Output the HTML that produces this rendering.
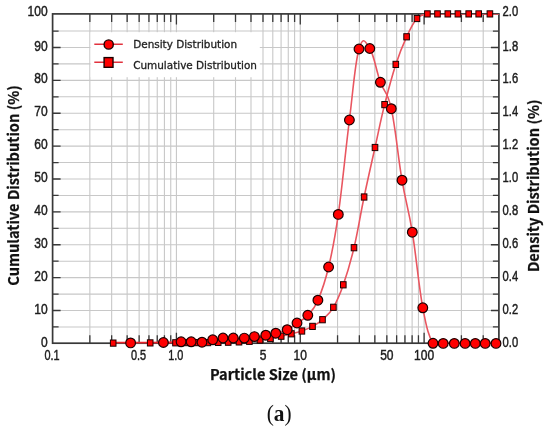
<!DOCTYPE html><html><head><meta charset="utf-8"><style>html,body{margin:0;padding:0;background:#fff;width:550px;height:431px;overflow:hidden}svg{display:block}</style></head><body>
<svg width="550" height="431" viewBox="0 0 550 431">
<rect width="550" height="431" fill="#fff"/>
<defs><clipPath id="pc"><rect x="52.6" y="13.9" width="446.3" height="329.3"/></clipPath></defs>
<path d="M89.85,13.9V343.2 M111.66,13.9V343.2 M127.14,13.9V343.2 M139.14,13.9V343.2 M148.94,13.9V343.2 M157.24,13.9V343.2 M164.42,13.9V343.2 M170.75,13.9V343.2 M176.42,13.9V343.2 M213.70,13.9V343.2 M235.51,13.9V343.2 M250.99,13.9V343.2 M262.99,13.9V343.2 M272.79,13.9V343.2 M281.09,13.9V343.2 M288.27,13.9V343.2 M294.60,13.9V343.2 M300.27,13.9V343.2 M337.55,13.9V343.2 M359.36,13.9V343.2 M374.84,13.9V343.2 M386.84,13.9V343.2 M396.64,13.9V343.2 M404.94,13.9V343.2 M412.12,13.9V343.2 M418.45,13.9V343.2 M424.12,13.9V343.2 M461.40,13.9V343.2 M483.21,13.9V343.2 M52.6,326.96H498.9 M52.6,310.52H498.9 M52.6,294.08H498.9 M52.6,277.64H498.9 M52.6,261.20H498.9 M52.6,244.76H498.9 M52.6,228.32H498.9 M52.6,211.88H498.9 M52.6,195.44H498.9 M52.6,179.00H498.9 M52.6,162.56H498.9 M52.6,146.12H498.9 M52.6,129.68H498.9 M52.6,113.24H498.9 M52.6,96.80H498.9 M52.6,80.36H498.9 M52.6,63.92H498.9 M52.6,47.48H498.9 M52.6,31.04H498.9" stroke="#c8c8c8" stroke-width="1.1" fill="none"/>
<rect x="90.6" y="32.2" width="169.2" height="45" fill="#fff"/>
<path d="M89.85,13.9V21.90 M89.85,343.2V335.20 M111.66,13.9V21.90 M111.66,343.2V335.20 M127.14,13.9V21.90 M127.14,343.2V335.20 M139.14,13.9V21.90 M139.14,343.2V335.20 M148.94,13.9V21.90 M148.94,343.2V335.20 M157.24,13.9V21.90 M157.24,343.2V335.20 M164.42,13.9V21.90 M164.42,343.2V335.20 M170.75,13.9V21.90 M170.75,343.2V335.20 M176.42,13.9V24.40 M176.42,343.2V332.70 M213.70,13.9V21.90 M213.70,343.2V335.20 M235.51,13.9V21.90 M235.51,343.2V335.20 M250.99,13.9V21.90 M250.99,343.2V335.20 M262.99,13.9V21.90 M262.99,343.2V335.20 M272.79,13.9V21.90 M272.79,343.2V335.20 M281.09,13.9V21.90 M281.09,343.2V335.20 M288.27,13.9V21.90 M288.27,343.2V335.20 M294.60,13.9V21.90 M294.60,343.2V335.20 M300.27,13.9V24.40 M300.27,343.2V332.70 M337.55,13.9V21.90 M337.55,343.2V335.20 M359.36,13.9V21.90 M359.36,343.2V335.20 M374.84,13.9V21.90 M374.84,343.2V335.20 M386.84,13.9V21.90 M386.84,343.2V335.20 M396.64,13.9V21.90 M396.64,343.2V335.20 M404.94,13.9V21.90 M404.94,343.2V335.20 M412.12,13.9V21.90 M412.12,343.2V335.20 M418.45,13.9V21.90 M418.45,343.2V335.20 M424.12,13.9V24.40 M424.12,343.2V332.70 M461.40,13.9V21.90 M461.40,343.2V335.20 M483.21,13.9V21.90 M483.21,343.2V335.20 M52.6,326.96H58.60 M498.9,326.96H492.90 M52.6,310.52H60.60 M498.9,310.52H490.90 M52.6,294.08H58.60 M498.9,294.08H492.90 M52.6,277.64H60.60 M498.9,277.64H490.90 M52.6,261.20H58.60 M498.9,261.20H492.90 M52.6,244.76H60.60 M498.9,244.76H490.90 M52.6,228.32H58.60 M498.9,228.32H492.90 M52.6,211.88H60.60 M498.9,211.88H490.90 M52.6,195.44H58.60 M498.9,195.44H492.90 M52.6,179.00H60.60 M498.9,179.00H490.90 M52.6,162.56H58.60 M498.9,162.56H492.90 M52.6,146.12H60.60 M498.9,146.12H490.90 M52.6,129.68H58.60 M498.9,129.68H492.90 M52.6,113.24H60.60 M498.9,113.24H490.90 M52.6,96.80H58.60 M498.9,96.80H492.90 M52.6,80.36H60.60 M498.9,80.36H490.90 M52.6,63.92H58.60 M498.9,63.92H492.90 M52.6,47.48H60.60 M498.9,47.48H490.90 M52.6,31.04H58.60 M498.9,31.04H492.90" stroke="#383838" stroke-width="1.3" fill="none"/>
<rect x="52.6" y="13.9" width="446.3" height="329.3" fill="none" stroke="#383838" stroke-width="1.7"/>
<g clip-path="url(#pc)">
<path d="M113.20,343.10 C120.60,343.06 137.74,342.96 150.20,342.90 C162.66,342.84 168.16,342.86 175.50,342.80 C182.84,342.74 182.54,342.64 186.90,342.60 C191.26,342.56 193.10,342.60 197.30,342.60 C201.50,342.60 203.72,342.64 207.90,342.60 C212.08,342.56 214.14,342.48 218.20,342.40 C222.26,342.32 224.04,342.30 228.20,342.20 C232.36,342.10 234.76,342.08 239.00,341.90 C243.24,341.72 245.20,341.68 249.40,341.30 C253.60,340.92 255.80,340.56 260.00,340.00 C264.20,339.44 266.16,339.26 270.40,338.50 C274.64,337.74 277.00,337.14 281.20,336.20 C285.40,335.26 287.26,334.84 291.40,333.80 C295.54,332.76 297.68,332.48 301.90,331.00 C306.12,329.52 308.38,328.66 312.50,326.40 C316.62,324.14 318.32,323.52 322.50,319.70 C326.68,315.88 329.24,314.28 333.40,307.30 C337.56,300.32 339.18,296.72 343.30,284.80 C347.42,272.88 349.84,265.26 354.00,247.70 C358.16,230.14 359.90,217.04 364.10,197.00 C368.30,176.96 370.90,165.98 375.00,147.50 C379.10,129.02 380.44,121.22 384.60,104.60 C388.76,87.98 391.40,77.96 395.80,64.40 C400.20,50.84 402.36,45.98 406.60,36.80 C410.84,27.62 412.84,23.08 417.00,18.50 C421.16,13.92 423.30,14.82 427.40,13.90 C431.50,12.98 433.42,13.90 437.50,13.90 C441.58,13.90 443.72,13.90 447.80,13.90 C451.88,13.90 453.72,13.90 457.90,13.90 C462.08,13.90 464.54,13.90 468.70,13.90 C472.86,13.90 474.46,13.90 478.70,13.90 C482.94,13.90 485.56,13.90 489.90,13.90 C494.24,13.90 498.30,13.90 500.40,13.90" stroke="#e95660" stroke-width="1.6" fill="none"/>
<path d="M130.60,342.90 C137.16,342.82 153.30,342.72 163.40,342.50 C173.50,342.28 175.54,341.94 181.10,341.80 C186.66,341.66 187.02,341.72 191.20,341.80 C195.38,341.88 197.70,342.60 202.00,342.20 C206.30,341.80 208.50,340.64 212.70,339.80 C216.90,338.96 218.88,338.36 223.00,338.00 C227.12,337.64 229.04,337.98 233.30,338.00 C237.56,338.02 240.08,338.38 244.30,338.10 C248.52,337.82 250.10,337.18 254.40,336.60 C258.70,336.02 261.52,335.88 265.80,335.20 C270.08,334.52 271.52,334.30 275.80,333.20 C280.08,332.10 282.96,331.74 287.20,329.70 C291.44,327.66 292.88,325.88 297.00,323.00 C301.12,320.12 303.62,319.86 307.80,315.30 C311.98,310.74 313.74,309.86 317.90,300.20 C322.06,290.54 324.52,284.16 328.60,267.00 C332.68,249.84 334.14,243.80 338.30,214.40 C342.46,185.00 345.26,153.08 349.40,120.00 C353.54,86.92 354.92,63.30 359.00,49.00 C363.08,34.70 365.52,41.84 369.80,48.50 C374.08,55.16 376.10,70.26 380.40,82.30 C384.70,94.34 386.98,89.12 391.30,108.70 C395.62,128.28 397.80,155.50 402.00,180.20 C406.20,204.90 408.14,206.68 412.30,232.20 C416.46,257.72 418.66,285.58 422.80,307.80 C426.94,330.02 428.92,336.18 433.00,343.30 C437.08,350.42 438.94,343.38 443.20,343.40 C447.46,343.42 449.92,343.40 454.30,343.40 C458.68,343.40 460.90,343.40 465.10,343.40 C469.30,343.40 471.28,343.40 475.30,343.40 C479.32,343.40 481.06,343.40 485.20,343.40 C489.34,343.40 491.74,343.40 496.00,343.40 C500.26,343.40 504.40,343.40 506.50,343.40" stroke="#e95660" stroke-width="1.6" fill="none"/>
<path d="M113.2,342.8H200" stroke="#e8262e" stroke-width="2.2" fill="none"/>
</g>
<rect x="110.40" y="340.00" width="5.6" height="6.2" fill="#ff0000" stroke="#1a0000" stroke-width="1"/>
<rect x="147.40" y="339.80" width="5.6" height="6.2" fill="#ff0000" stroke="#1a0000" stroke-width="1"/>
<rect x="172.70" y="339.70" width="5.6" height="6.2" fill="#ff0000" stroke="#1a0000" stroke-width="1"/>
<rect x="184.10" y="339.50" width="5.6" height="6.2" fill="#ff0000" stroke="#1a0000" stroke-width="1"/>
<rect x="194.50" y="339.50" width="5.6" height="6.2" fill="#ff0000" stroke="#1a0000" stroke-width="1"/>
<rect x="205.10" y="339.50" width="5.6" height="6.2" fill="#ff0000" stroke="#1a0000" stroke-width="1"/>
<rect x="215.40" y="339.30" width="5.6" height="6.2" fill="#ff0000" stroke="#1a0000" stroke-width="1"/>
<rect x="225.40" y="339.10" width="5.6" height="6.2" fill="#ff0000" stroke="#1a0000" stroke-width="1"/>
<rect x="236.20" y="338.80" width="5.6" height="6.2" fill="#ff0000" stroke="#1a0000" stroke-width="1"/>
<rect x="246.60" y="338.20" width="5.6" height="6.2" fill="#ff0000" stroke="#1a0000" stroke-width="1"/>
<rect x="257.20" y="336.90" width="5.6" height="6.2" fill="#ff0000" stroke="#1a0000" stroke-width="1"/>
<rect x="267.60" y="335.40" width="5.6" height="6.2" fill="#ff0000" stroke="#1a0000" stroke-width="1"/>
<rect x="278.40" y="333.10" width="5.6" height="6.2" fill="#ff0000" stroke="#1a0000" stroke-width="1"/>
<rect x="288.60" y="330.70" width="5.6" height="6.2" fill="#ff0000" stroke="#1a0000" stroke-width="1"/>
<rect x="299.10" y="327.90" width="5.6" height="6.2" fill="#ff0000" stroke="#1a0000" stroke-width="1"/>
<rect x="309.70" y="323.30" width="5.6" height="6.2" fill="#ff0000" stroke="#1a0000" stroke-width="1"/>
<rect x="319.70" y="316.60" width="5.6" height="6.2" fill="#ff0000" stroke="#1a0000" stroke-width="1"/>
<rect x="330.60" y="304.20" width="5.6" height="6.2" fill="#ff0000" stroke="#1a0000" stroke-width="1"/>
<rect x="340.50" y="281.70" width="5.6" height="6.2" fill="#ff0000" stroke="#1a0000" stroke-width="1"/>
<rect x="351.20" y="244.60" width="5.6" height="6.2" fill="#ff0000" stroke="#1a0000" stroke-width="1"/>
<rect x="361.30" y="193.90" width="5.6" height="6.2" fill="#ff0000" stroke="#1a0000" stroke-width="1"/>
<rect x="372.20" y="144.40" width="5.6" height="6.2" fill="#ff0000" stroke="#1a0000" stroke-width="1"/>
<rect x="381.80" y="101.50" width="5.6" height="6.2" fill="#ff0000" stroke="#1a0000" stroke-width="1"/>
<rect x="393.00" y="61.30" width="5.6" height="6.2" fill="#ff0000" stroke="#1a0000" stroke-width="1"/>
<rect x="403.80" y="33.70" width="5.6" height="6.2" fill="#ff0000" stroke="#1a0000" stroke-width="1"/>
<rect x="414.20" y="15.40" width="5.6" height="6.2" fill="#ff0000" stroke="#1a0000" stroke-width="1"/>
<rect x="424.60" y="10.80" width="5.6" height="6.2" fill="#ff0000" stroke="#1a0000" stroke-width="1"/>
<rect x="434.70" y="10.80" width="5.6" height="6.2" fill="#ff0000" stroke="#1a0000" stroke-width="1"/>
<rect x="445.00" y="10.80" width="5.6" height="6.2" fill="#ff0000" stroke="#1a0000" stroke-width="1"/>
<rect x="455.10" y="10.80" width="5.6" height="6.2" fill="#ff0000" stroke="#1a0000" stroke-width="1"/>
<rect x="465.90" y="10.80" width="5.6" height="6.2" fill="#ff0000" stroke="#1a0000" stroke-width="1"/>
<rect x="475.90" y="10.80" width="5.6" height="6.2" fill="#ff0000" stroke="#1a0000" stroke-width="1"/>
<rect x="487.10" y="10.80" width="5.6" height="6.2" fill="#ff0000" stroke="#1a0000" stroke-width="1"/>
<circle cx="130.60" cy="342.90" r="4.85" fill="#ff0000" stroke="#1a0000" stroke-width="1.2"/>
<circle cx="163.40" cy="342.50" r="4.85" fill="#ff0000" stroke="#1a0000" stroke-width="1.2"/>
<circle cx="181.10" cy="341.80" r="4.85" fill="#ff0000" stroke="#1a0000" stroke-width="1.2"/>
<circle cx="191.20" cy="341.80" r="4.85" fill="#ff0000" stroke="#1a0000" stroke-width="1.2"/>
<circle cx="202.00" cy="342.20" r="4.85" fill="#ff0000" stroke="#1a0000" stroke-width="1.2"/>
<circle cx="212.70" cy="339.80" r="4.85" fill="#ff0000" stroke="#1a0000" stroke-width="1.2"/>
<circle cx="223.00" cy="338.00" r="4.85" fill="#ff0000" stroke="#1a0000" stroke-width="1.2"/>
<circle cx="233.30" cy="338.00" r="4.85" fill="#ff0000" stroke="#1a0000" stroke-width="1.2"/>
<circle cx="244.30" cy="338.10" r="4.85" fill="#ff0000" stroke="#1a0000" stroke-width="1.2"/>
<circle cx="254.40" cy="336.60" r="4.85" fill="#ff0000" stroke="#1a0000" stroke-width="1.2"/>
<circle cx="265.80" cy="335.20" r="4.85" fill="#ff0000" stroke="#1a0000" stroke-width="1.2"/>
<circle cx="275.80" cy="333.20" r="4.85" fill="#ff0000" stroke="#1a0000" stroke-width="1.2"/>
<circle cx="287.20" cy="329.70" r="4.85" fill="#ff0000" stroke="#1a0000" stroke-width="1.2"/>
<circle cx="297.00" cy="323.00" r="4.85" fill="#ff0000" stroke="#1a0000" stroke-width="1.2"/>
<circle cx="307.80" cy="315.30" r="4.85" fill="#ff0000" stroke="#1a0000" stroke-width="1.2"/>
<circle cx="317.90" cy="300.20" r="4.85" fill="#ff0000" stroke="#1a0000" stroke-width="1.2"/>
<circle cx="328.60" cy="267.00" r="4.85" fill="#ff0000" stroke="#1a0000" stroke-width="1.2"/>
<circle cx="338.30" cy="214.40" r="4.85" fill="#ff0000" stroke="#1a0000" stroke-width="1.2"/>
<circle cx="349.40" cy="120.00" r="4.85" fill="#ff0000" stroke="#1a0000" stroke-width="1.2"/>
<circle cx="359.00" cy="49.00" r="4.85" fill="#ff0000" stroke="#1a0000" stroke-width="1.2"/>
<circle cx="369.80" cy="48.50" r="4.85" fill="#ff0000" stroke="#1a0000" stroke-width="1.2"/>
<circle cx="380.40" cy="82.30" r="4.85" fill="#ff0000" stroke="#1a0000" stroke-width="1.2"/>
<circle cx="391.30" cy="108.70" r="4.85" fill="#ff0000" stroke="#1a0000" stroke-width="1.2"/>
<circle cx="402.00" cy="180.20" r="4.85" fill="#ff0000" stroke="#1a0000" stroke-width="1.2"/>
<circle cx="412.30" cy="232.20" r="4.85" fill="#ff0000" stroke="#1a0000" stroke-width="1.2"/>
<circle cx="422.80" cy="307.80" r="4.85" fill="#ff0000" stroke="#1a0000" stroke-width="1.2"/>
<circle cx="433.00" cy="343.30" r="4.85" fill="#ff0000" stroke="#1a0000" stroke-width="1.2"/>
<circle cx="443.20" cy="343.40" r="4.85" fill="#ff0000" stroke="#1a0000" stroke-width="1.2"/>
<circle cx="454.30" cy="343.40" r="4.85" fill="#ff0000" stroke="#1a0000" stroke-width="1.2"/>
<circle cx="465.10" cy="343.40" r="4.85" fill="#ff0000" stroke="#1a0000" stroke-width="1.2"/>
<circle cx="475.30" cy="343.40" r="4.85" fill="#ff0000" stroke="#1a0000" stroke-width="1.2"/>
<circle cx="485.20" cy="343.40" r="4.85" fill="#ff0000" stroke="#1a0000" stroke-width="1.2"/>
<circle cx="496.00" cy="343.40" r="4.85" fill="#ff0000" stroke="#1a0000" stroke-width="1.2"/>
<path d="M94.3,44.3H122.8M94.3,62.3H122.8" stroke="#e2323e" stroke-width="1.6"/>
<circle cx="108.7" cy="44.5" r="4.6" fill="#ff0000" stroke="#1a0000" stroke-width="1.4"/>
<rect x="104.1" y="57.6" width="8.9" height="9.7" fill="#ff0000" stroke="#1a0000" stroke-width="1.4"/>
<text x="133.2" y="48.2" style="font-family:'DejaVu Sans','Liberation Sans',sans-serif;font-size:10.45px" fill="#1e1e1e" stroke="#1e1e1e" stroke-width="0.3">Density Distribution</text>
<text x="133.2" y="68.5" style="font-family:'DejaVu Sans','Liberation Sans',sans-serif;font-size:10.45px" fill="#1e1e1e" stroke="#1e1e1e" stroke-width="0.3">Cumulative Distribution</text>
<text transform="translate(47.7,346.50) scale(0.86,1)" text-anchor="end" style="font-family:'Liberation Sans',Arial,sans-serif;font-size:14px" fill="#1c1c1c" stroke="#1c1c1c" stroke-width="0.45">0</text>
<text transform="translate(502.6,346.50) scale(0.80,1)" text-anchor="start" style="font-family:'Liberation Sans',Arial,sans-serif;font-size:14px" fill="#1c1c1c" stroke="#1c1c1c" stroke-width="0.45">0.0</text>
<text transform="translate(47.7,313.62) scale(0.86,1)" text-anchor="end" style="font-family:'Liberation Sans',Arial,sans-serif;font-size:14px" fill="#1c1c1c" stroke="#1c1c1c" stroke-width="0.45">10</text>
<text transform="translate(502.6,313.62) scale(0.80,1)" text-anchor="start" style="font-family:'Liberation Sans',Arial,sans-serif;font-size:14px" fill="#1c1c1c" stroke="#1c1c1c" stroke-width="0.45">0.2</text>
<text transform="translate(47.7,280.74) scale(0.86,1)" text-anchor="end" style="font-family:'Liberation Sans',Arial,sans-serif;font-size:14px" fill="#1c1c1c" stroke="#1c1c1c" stroke-width="0.45">20</text>
<text transform="translate(502.6,280.74) scale(0.80,1)" text-anchor="start" style="font-family:'Liberation Sans',Arial,sans-serif;font-size:14px" fill="#1c1c1c" stroke="#1c1c1c" stroke-width="0.45">0.4</text>
<text transform="translate(47.7,247.86) scale(0.86,1)" text-anchor="end" style="font-family:'Liberation Sans',Arial,sans-serif;font-size:14px" fill="#1c1c1c" stroke="#1c1c1c" stroke-width="0.45">30</text>
<text transform="translate(502.6,247.86) scale(0.80,1)" text-anchor="start" style="font-family:'Liberation Sans',Arial,sans-serif;font-size:14px" fill="#1c1c1c" stroke="#1c1c1c" stroke-width="0.45">0.6</text>
<text transform="translate(47.7,214.98) scale(0.86,1)" text-anchor="end" style="font-family:'Liberation Sans',Arial,sans-serif;font-size:14px" fill="#1c1c1c" stroke="#1c1c1c" stroke-width="0.45">40</text>
<text transform="translate(502.6,214.98) scale(0.80,1)" text-anchor="start" style="font-family:'Liberation Sans',Arial,sans-serif;font-size:14px" fill="#1c1c1c" stroke="#1c1c1c" stroke-width="0.45">0.8</text>
<text transform="translate(47.7,182.10) scale(0.86,1)" text-anchor="end" style="font-family:'Liberation Sans',Arial,sans-serif;font-size:14px" fill="#1c1c1c" stroke="#1c1c1c" stroke-width="0.45">50</text>
<text transform="translate(502.6,182.10) scale(0.80,1)" text-anchor="start" style="font-family:'Liberation Sans',Arial,sans-serif;font-size:14px" fill="#1c1c1c" stroke="#1c1c1c" stroke-width="0.45">1.0</text>
<text transform="translate(47.7,149.22) scale(0.86,1)" text-anchor="end" style="font-family:'Liberation Sans',Arial,sans-serif;font-size:14px" fill="#1c1c1c" stroke="#1c1c1c" stroke-width="0.45">60</text>
<text transform="translate(502.6,149.22) scale(0.80,1)" text-anchor="start" style="font-family:'Liberation Sans',Arial,sans-serif;font-size:14px" fill="#1c1c1c" stroke="#1c1c1c" stroke-width="0.45">1.2</text>
<text transform="translate(47.7,116.34) scale(0.86,1)" text-anchor="end" style="font-family:'Liberation Sans',Arial,sans-serif;font-size:14px" fill="#1c1c1c" stroke="#1c1c1c" stroke-width="0.45">70</text>
<text transform="translate(502.6,116.34) scale(0.80,1)" text-anchor="start" style="font-family:'Liberation Sans',Arial,sans-serif;font-size:14px" fill="#1c1c1c" stroke="#1c1c1c" stroke-width="0.45">1.4</text>
<text transform="translate(47.7,83.46) scale(0.86,1)" text-anchor="end" style="font-family:'Liberation Sans',Arial,sans-serif;font-size:14px" fill="#1c1c1c" stroke="#1c1c1c" stroke-width="0.45">80</text>
<text transform="translate(502.6,83.46) scale(0.80,1)" text-anchor="start" style="font-family:'Liberation Sans',Arial,sans-serif;font-size:14px" fill="#1c1c1c" stroke="#1c1c1c" stroke-width="0.45">1.6</text>
<text transform="translate(47.7,50.58) scale(0.86,1)" text-anchor="end" style="font-family:'Liberation Sans',Arial,sans-serif;font-size:14px" fill="#1c1c1c" stroke="#1c1c1c" stroke-width="0.45">90</text>
<text transform="translate(502.6,50.58) scale(0.80,1)" text-anchor="start" style="font-family:'Liberation Sans',Arial,sans-serif;font-size:14px" fill="#1c1c1c" stroke="#1c1c1c" stroke-width="0.45">1.8</text>
<text transform="translate(47.7,16.30) scale(0.86,1)" text-anchor="end" style="font-family:'Liberation Sans',Arial,sans-serif;font-size:14px" fill="#1c1c1c" stroke="#1c1c1c" stroke-width="0.45">100</text>
<text transform="translate(502.6,16.30) scale(0.80,1)" text-anchor="start" style="font-family:'Liberation Sans',Arial,sans-serif;font-size:14px" fill="#1c1c1c" stroke="#1c1c1c" stroke-width="0.45">2.0</text>
<text transform="translate(51.97,360.1) scale(0.78,1)" text-anchor="middle" style="font-family:'Liberation Sans',Arial,sans-serif;font-size:14px" fill="#1c1c1c" stroke="#1c1c1c" stroke-width="0.45">0.1</text>
<text transform="translate(138.54,360.1) scale(0.78,1)" text-anchor="middle" style="font-family:'Liberation Sans',Arial,sans-serif;font-size:14px" fill="#1c1c1c" stroke="#1c1c1c" stroke-width="0.45">0.5</text>
<text transform="translate(175.82,360.1) scale(0.78,1)" text-anchor="middle" style="font-family:'Liberation Sans',Arial,sans-serif;font-size:14px" fill="#1c1c1c" stroke="#1c1c1c" stroke-width="0.45">1.0</text>
<text transform="translate(262.99,360.1) scale(0.86,1)" text-anchor="middle" style="font-family:'Liberation Sans',Arial,sans-serif;font-size:14px" fill="#1c1c1c" stroke="#1c1c1c" stroke-width="0.45">5</text>
<text transform="translate(300.27,360.1) scale(0.86,1)" text-anchor="middle" style="font-family:'Liberation Sans',Arial,sans-serif;font-size:14px" fill="#1c1c1c" stroke="#1c1c1c" stroke-width="0.45">10</text>
<text transform="translate(386.84,360.1) scale(0.86,1)" text-anchor="middle" style="font-family:'Liberation Sans',Arial,sans-serif;font-size:14px" fill="#1c1c1c" stroke="#1c1c1c" stroke-width="0.45">50</text>
<text transform="translate(424.12,360.1) scale(0.86,1)" text-anchor="middle" style="font-family:'Liberation Sans',Arial,sans-serif;font-size:14px" fill="#1c1c1c" stroke="#1c1c1c" stroke-width="0.45">100</text>
<text x="273" y="379.6" text-anchor="middle" style="font-family:'Noto Sans CJK KR','Liberation Sans',sans-serif;font-weight:bold;font-size:14.6px" fill="#111" stroke="#111" stroke-width="0.25">Particle Size (μm)</text>
<text transform="translate(18.8,185.5) rotate(-90)" text-anchor="middle" style="font-family:'Noto Sans CJK KR','Liberation Sans',sans-serif;font-weight:bold;font-size:14.6px" fill="#111" stroke="#111" stroke-width="0.25">Cumulative Distribution (%)</text>
<text transform="translate(538.8,185.8) rotate(-90)" text-anchor="middle" style="font-family:'Noto Sans CJK KR','Liberation Sans',sans-serif;font-weight:bold;font-size:14.6px" fill="#111" stroke="#111" stroke-width="0.25">Density Distribution (%)</text>
<text transform="translate(279.1,421.2) scale(0.945,1)" text-anchor="middle" style="font-family:'Liberation Serif','DejaVu Serif',serif;font-size:22.6px" fill="#111">(<tspan font-weight="bold">a</tspan>)</text>
</svg></body></html>
